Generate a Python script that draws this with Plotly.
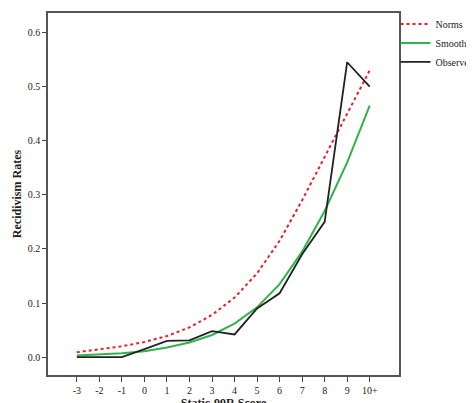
import plotly.graph_objects as go

categories = ["-3","-2","-1","0","1","2","3","4","5","6","7","8","9","10+"]
norms = [0.009,0.014,0.020,0.028,0.039,0.055,0.078,0.110,0.155,0.215,0.290,0.370,0.450,0.530]
smoothed = [0.003,0.005,0.007,0.011,0.018,0.027,0.041,0.062,0.092,0.135,0.195,0.270,0.360,0.465]
observed = [0.0,0.0,0.0,0.015,0.030,0.031,0.048,0.042,0.090,0.118,0.190,0.250,0.545,0.500]

x = list(range(len(categories)))
fig = go.Figure()
fig.add_trace(go.Scatter(x=x, y=norms, mode="lines", name="Norms",
                         line=dict(color="#e8202a", dash="dot", width=2)))
fig.add_trace(go.Scatter(x=x, y=smoothed, mode="lines", name="Smoothed",
                         line=dict(color="#2fb44a", width=2)))
fig.add_trace(go.Scatter(x=x, y=observed, mode="lines", name="Observed",
                         line=dict(color="#222222", width=1.8)))

font = "Liberation Serif, DejaVu Serif, serif"
fig.update_layout(
    width=474, height=403, margin=dict(l=40, r=68, t=1, b=36),
    paper_bgcolor="white", plot_bgcolor="white",
    font=dict(family=font, size=11, color="#222"),
    showlegend=True,
    legend=dict(x=0.99, y=1.01, xanchor="left", yanchor="top", bgcolor="rgba(0,0,0,0)",
                font=dict(size=10), tracegroupgap=0, itemwidth=30),
    xaxis=dict(range=[-1.28, 14.3], tickvals=x, ticktext=categories, showgrid=False,
               zeroline=False, showline=True, linecolor="#555", linewidth=1.5, mirror=True,
               ticks="outside", ticklen=5, tickcolor="#444", tickfont=dict(size=10),
               title=dict(text="<b>Static-99R Score</b>", font=dict(size=12), standoff=2)),
    yaxis=dict(range=[-0.033, 0.636], tickvals=[0,0.1,0.2,0.3,0.4,0.5,0.6],
               ticktext=["0.0","0.1","0.2","0.3","0.4","0.5","0.6"], showgrid=False,
               zeroline=False, showline=True, linecolor="#555", linewidth=1.5, mirror=True,
               ticks="outside", ticklen=4, tickcolor="#444", tickfont=dict(size=10),
               title=dict(text="<b>Recidivism Rates</b>", font=dict(size=12), standoff=4)),
)
fig.write_html("out.html")
